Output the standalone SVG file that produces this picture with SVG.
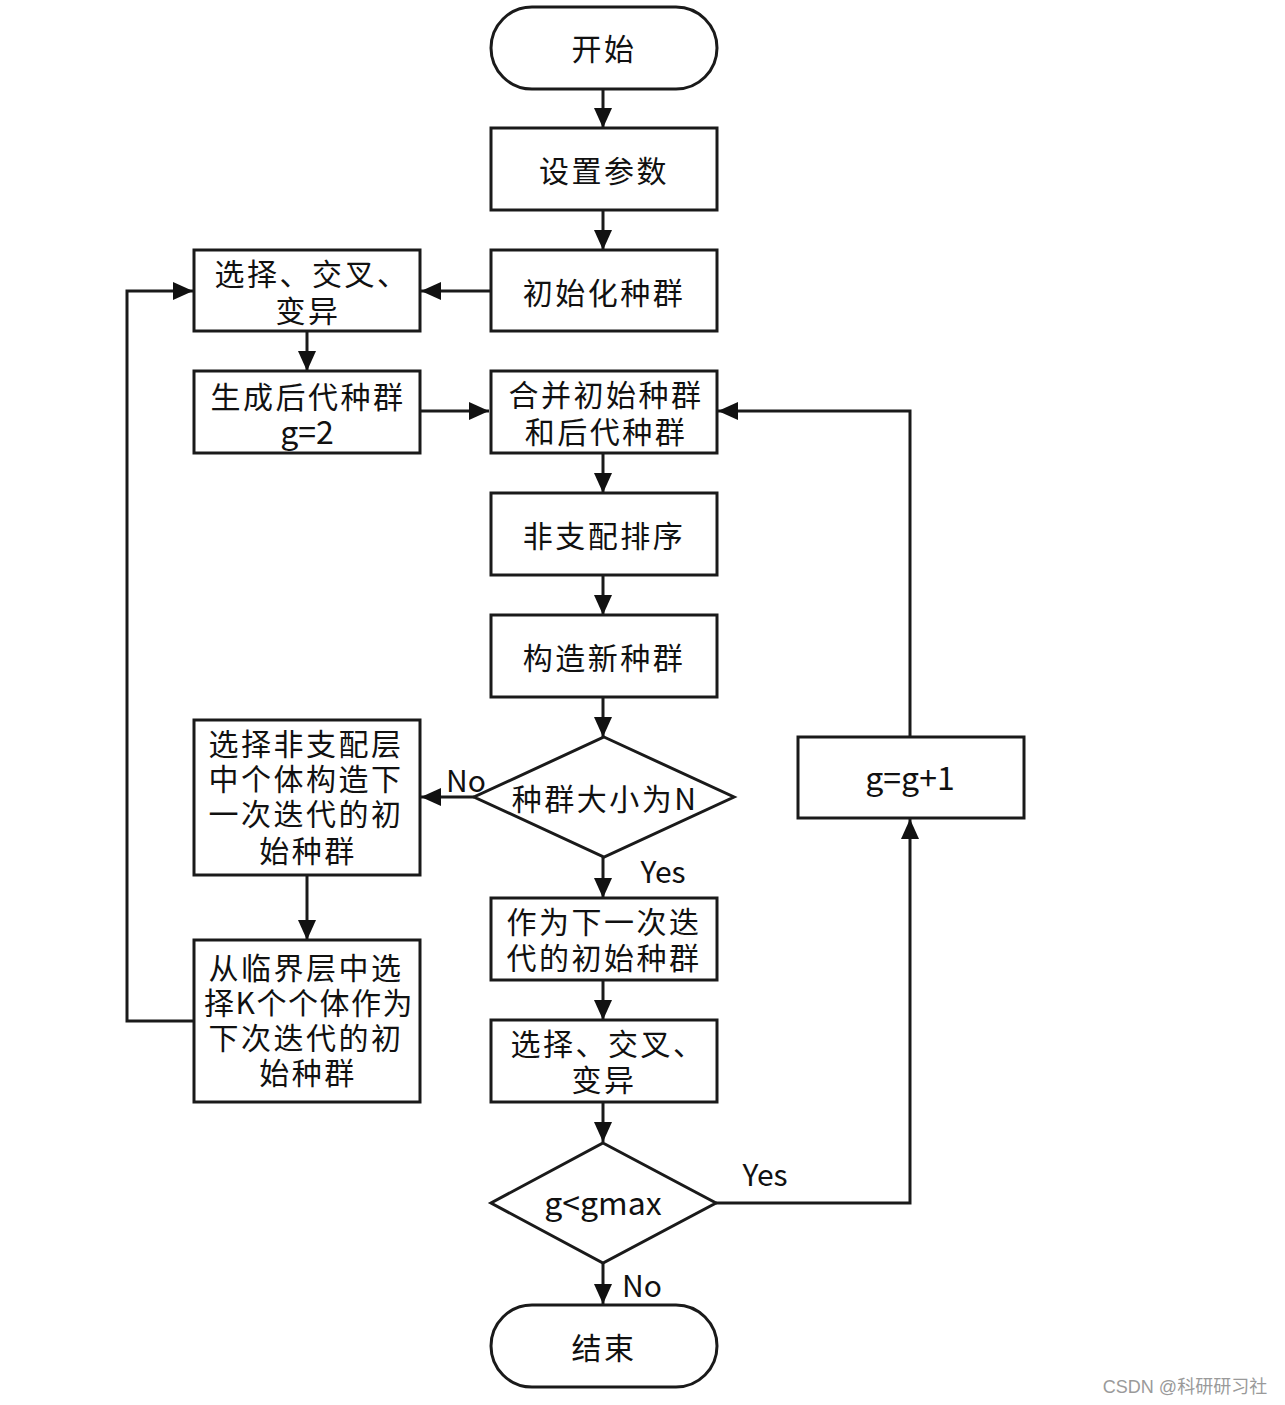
<svg xmlns="http://www.w3.org/2000/svg" width="1285" height="1405" viewBox="0 0 1285 1405">
<style>
.n{fill:#fff;stroke:#1a1a1a;stroke-width:3}
.t{font-family:"Noto Sans CJK SC","Noto Sans",sans-serif;font-size:30px;letter-spacing:2.5px;fill:#111;text-anchor:middle;dominant-baseline:central}
.l{font-family:"Noto Sans CJK SC","Noto Sans",sans-serif;font-size:30px;fill:#111;text-anchor:middle;dominant-baseline:central}
.c{fill:none;stroke:#1a1a1a;stroke-width:3;marker-end:url(#ah)}
.w{font-family:"Liberation Sans","Noto Sans CJK SC",sans-serif;font-size:18px;fill:#9a9a9a;text-anchor:middle;dominant-baseline:central}
</style>
<defs>
<marker id="ah" markerUnits="userSpaceOnUse" markerWidth="22" markerHeight="18" refX="20" refY="9" orient="auto">
<path d="M0,0 L20,9 L0,18 Z" fill="#111"/>
</marker>
</defs>
<rect width="1285" height="1405" fill="#fff"/>
<g id="connectors">
<path class="c" d="M603,89 V128"/>
<path class="c" d="M603,210 V250"/>
<path class="c" d="M490,291 H421"/>
<path class="c" d="M307,331 V371"/>
<path class="c" d="M420,411 H489"/>
<path class="c" d="M603,453 V493"/>
<path class="c" d="M603,575 V615"/>
<path class="c" d="M603,697 V737"/>
<path class="c" d="M474,797 H421"/>
<path class="c" d="M307,875 V940"/>
<path class="c" d="M194,1021 H127 V291 H193"/>
<path class="c" d="M603,857 V898"/>
<path class="c" d="M603,980 V1020"/>
<path class="c" d="M603,1102 V1142"/>
<path class="c" d="M716,1203 H910 V819"/>
<path class="c" d="M910,737 V411 H718"/>
<path class="c" d="M603,1263 V1304"/>
<text class="l" x="466" y="779">No</text>
<text class="l" x="663" y="870">Yes</text>
<text class="l" x="765" y="1173">Yes</text>
<text class="l" x="642" y="1284">No</text>
</g>
<g id="start"><rect class="n" x="491" y="7" width="226" height="82" rx="41"/><text class="t" x="604" y="47">开始</text></g>
<g id="setparams"><rect class="n" x="491" y="128" width="226" height="82"/><text class="t" x="604" y="169">设置参数</text></g>
<g id="init"><rect class="n" x="491" y="250" width="226" height="81"/><text class="t" x="604" y="291">初始化种群</text></g>
<g id="sel1"><rect class="n" x="194" y="250" width="226" height="81"/><text class="t" x="312" y="272">选择、交叉、</text><text class="t" x="308" y="309">变异</text></g>
<g id="offspring"><rect class="n" x="194" y="371" width="226" height="82"/><text class="t" x="308" y="395">生成后代种群</text><text class="l" x="307" y="430" style="font-size:32px">g=2</text></g>
<g id="merge"><rect class="n" x="491" y="371" width="226" height="82"/><text class="t" x="606" y="393">合并初始种群</text><text class="t" x="606" y="430">和后代种群</text></g>
<g id="sort"><rect class="n" x="491" y="493" width="226" height="82"/><text class="t" x="604" y="534">非支配排序</text></g>
<g id="construct"><rect class="n" x="491" y="615" width="226" height="82"/><text class="t" x="604" y="656">构造新种群</text></g>
<g id="dec1"><path class="n" d="M604,737 L734,797 L604,857 L474,797 Z"/><text class="t" x="605" y="797">种群大小为N</text></g>
<g id="selnd"><rect class="n" x="194" y="720" width="226" height="155"/><text class="t" x="306" y="742">选择非支配层</text><text class="t" x="306" y="777">中个体构造下</text><text class="t" x="306" y="812">一次迭代的初</text><text class="t" x="308" y="849">始种群</text></g>
<g id="critical"><rect class="n" x="194" y="940" width="226" height="162"/><text class="t" x="306" y="966">从临界层中选</text><text class="t" x="309" y="1001" style="letter-spacing:1.5px">择K个个体作为</text><text class="t" x="306" y="1036">下次迭代的初</text><text class="t" x="308" y="1071">始种群</text></g>
<g id="next"><rect class="n" x="491" y="898" width="226" height="82"/><text class="t" x="604" y="920">作为下一次迭</text><text class="t" x="604" y="956">代的初始种群</text></g>
<g id="sel2"><rect class="n" x="491" y="1020" width="226" height="82"/><text class="t" x="608" y="1042">选择、交叉、</text><text class="t" x="604" y="1078">变异</text></g>
<g id="dec2"><path class="n" d="M603,1143 L716,1203 L603,1263 L491,1203 Z"/><text class="l" x="603" y="1201" style="font-size:32px">g&lt;gmax</text></g>
<g id="inc"><rect class="n" x="798" y="737" width="226" height="81"/><text class="l" x="910" y="776" style="font-size:32px">g=g+1</text></g>
<g id="end"><rect class="n" x="491" y="1305" width="226" height="82" rx="41"/><text class="t" x="604" y="1346">结束</text></g>
<text class="w" x="1185" y="1387">CSDN @科研研习社</text>
</svg>
